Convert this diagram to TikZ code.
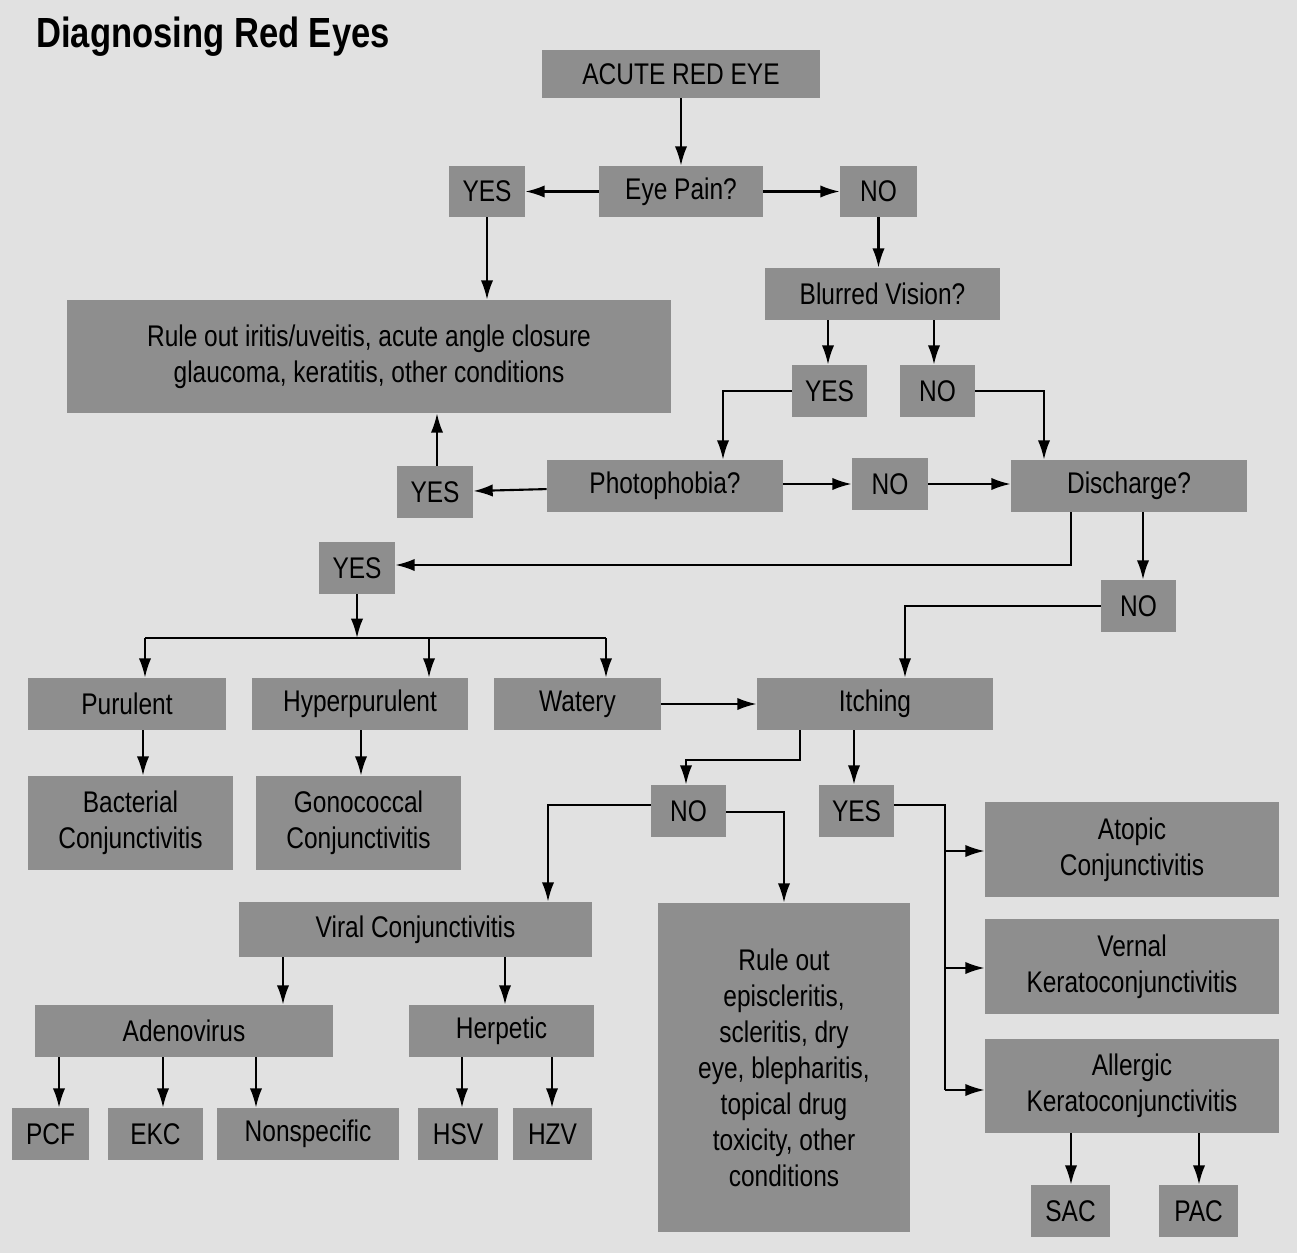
\documentclass[tikz,border=0pt]{standalone}
\usepackage{fontspec}
\setmainfont[FakeStretch=0.82]{Liberation Sans}
\usetikzlibrary{arrows.meta}
\definecolor{bg}{HTML}{E1E1E1}
\definecolor{bxc}{HTML}{8E8E8E}
\newcommand{\bx}[6]{%
  \pgfmathsetmacro{\bw}{(#4-#2)*0.02}%
  \pgfmathsetmacro{\bh}{(#5-#3)*0.02}%
  \node[bxs,minimum width=\bw cm,minimum height=\bh cm] (#1) at ({(#2+#4)/2},{(#3+#5)/2}) {#6};}
\begin{document}
\begin{tikzpicture}[x=0.02cm,y=-0.02cm,
  bxs/.style={fill=bxc,inner sep=0pt,align=center,font=\fontsize{17}{20.5}\selectfont},
  arr/.style={-{Latex[length=11pt,width=7pt]},line width=1.2pt},
  ln/.style={line width=1.2pt}]
\fill[bg] (0,0) rectangle (1297,1253);
\useasboundingbox (0,0) rectangle (1297,1253);
\node[anchor=west,font=\bfseries\fontsize{24}{28}\selectfont] (title) at (30,37) {Diagnosing Red Eyes};
\bx{acute}{542}{50}{820}{98}{ACUTE RED EYE}
\bx{pain}{599}{166}{763}{217}{Eye Pain?}
\bx{yes1}{449}{166}{525}{217}{YES}
\bx{no1}{840}{166}{917}{217}{NO}
\bx{blur}{765}{268}{1000}{320}{Blurred Vision?}
\bx{rule1}{67}{300}{671}{413}{Rule out iritis/uveitis, acute angle closure\\glaucoma, keratitis, other conditions}
\bx{yes2}{792}{365}{867}{417}{YES}
\bx{no2}{900}{365}{975}{417}{NO}
\bx{yes3}{397}{466}{473}{518}{YES}
\bx{photo}{547}{460}{783}{512}{Photophobia?}
\bx{no3}{852}{458}{928}{510}{NO}
\bx{disc}{1011}{460}{1247}{512}{Discharge?}
\bx{yes4}{319}{542}{395}{594}{YES}
\bx{no4}{1101}{580}{1176}{632}{NO}
\bx{pur}{28}{678}{226}{730}{Purulent}
\bx{hyp}{252}{678}{468}{730}{Hyperpurulent}
\bx{wat}{494}{678}{661}{730}{Watery}
\bx{itch}{757}{678}{993}{730}{Itching}
\bx{bact}{28}{776}{233}{870}{Bacterial\\Conjunctivitis}
\bx{gono}{256}{776}{461}{870}{Gonococcal\\Conjunctivitis}
\bx{no5}{651}{785}{726}{837}{NO}
\bx{yes5}{819}{785}{894}{837}{YES}
\bx{atop}{985}{802}{1279}{897}{Atopic\\Conjunctivitis}
\bx{vern}{985}{919}{1279}{1014}{Vernal\\Keratoconjunctivitis}
\bx{alle}{985}{1039}{1279}{1133}{Allergic\\Keratoconjunctivitis}
\bx{viral}{239}{902}{592}{957}{Viral Conjunctivitis}
\bx{rule2}{658}{903}{910}{1232}{Rule out\\episcleritis,\\scleritis, dry\\eye, blepharitis,\\topical drug\\toxicity, other\\conditions}
\bx{adeno}{35}{1005}{333}{1057}{Adenovirus}
\bx{herp}{409}{1005}{594}{1057}{Herpetic}
\bx{pcf}{12}{1108}{89}{1160}{PCF}
\bx{ekc}{108}{1108}{203}{1160}{EKC}
\bx{nons}{217}{1108}{399}{1160}{Nonspecific}
\bx{hsv}{418}{1108}{498}{1160}{HSV}
\bx{hzv}{513}{1108}{592}{1160}{HZV}
\bx{sac}{1031}{1185}{1110}{1237}{SAC}
\bx{pac}{1159}{1185}{1238}{1237}{PAC}
% arrows
\draw[arr] (acute) -- (pain);
\draw[arr] (pain) -- (yes1);
\draw[arr] (pain) -- (no1);
\draw[arr] (yes1.south -| 487,0) -- (rule1.north -| 487,0);
\draw[arr] (no1) -- (no1 |- blur.north);
\draw[arr] (blur.south -| 828,0) -- (yes2.north -| 828,0);
\draw[arr] (blur.south -| 934,0) -- (no2.north -| 934,0);
\draw[arr] (yes2.west) -| (photo.north -| 723,0);
\draw[arr] (no2.east) -| (disc.north -| 1044,0);
\draw[arr] (photo) -- (yes3);
\draw[arr] (yes3.north -| 437,0) -- (rule1.south -| 437,0);
\draw[arr] (photo.east |- no3) -- (no3);
\draw[arr] (no3) -- (disc.west |- no3);
\draw[arr] (disc.south -| 1071,0) |- (yes4.east |- 0,565);
\draw[arr] (disc.south -| 1143,0) -- (no4.north -| 1143,0);
\draw[arr] (no4.west) -| (itch.north -| 905,0);
\coordinate (bus) at (357,638);
\draw[arr] (yes4) -- (bus);
\draw[ln] (145,638) -- (606,638);
\draw[arr] (145,638) -- (pur.north -| 145,0);
\draw[arr] (429,638) -- (hyp.north -| 429,0);
\draw[arr] (606,638) -- (wat.north -| 606,0);
\draw[arr] (pur.south -| 143,0) -- (bact.north -| 143,0);
\draw[arr] (hyp.south -| 361,0) -- (gono.north -| 361,0);
\draw[arr] (wat) -- (itch);
\draw[arr] (itch.south -| 800,0) -- (800,760) -| (no5.north -| 686,0);
\draw[arr] (itch.south -| 854,0) -- (yes5.north -| 854,0);
\draw[arr] (no5.west |- 0,805) -| (viral.north -| 548,0);
\draw[arr] (no5.east |- 0,812) -| (rule2.north -| 784,0);
\draw[ln] (yes5.east |- 0,805) -| (945,1090);
\draw[arr] (945,851) -- (atop.west |- 0,851);
\draw[arr] (945,968) -- (vern.west |- 0,968);
\draw[arr] (945,1090) -- (alle.west |- 0,1090);
\draw[arr] (viral.south -| 283,0) -- (adeno.north -| 283,0);
\draw[arr] (viral.south -| 505,0) -- (herp.north -| 505,0);
\draw[arr] (adeno.south -| 59,0) -- (pcf.north -| 59,0);
\draw[arr] (adeno.south -| 163,0) -- (ekc.north -| 163,0);
\draw[arr] (adeno.south -| 256,0) -- (nons.north -| 256,0);
\draw[arr] (herp.south -| 462,0) -- (hsv.north -| 462,0);
\draw[arr] (herp.south -| 552,0) -- (hzv.north -| 552,0);
\draw[arr] (alle.south -| 1071,0) -- (sac.north -| 1071,0);
\draw[arr] (alle.south -| 1199,0) -- (pac.north -| 1199,0);
\end{tikzpicture}
\end{document}
